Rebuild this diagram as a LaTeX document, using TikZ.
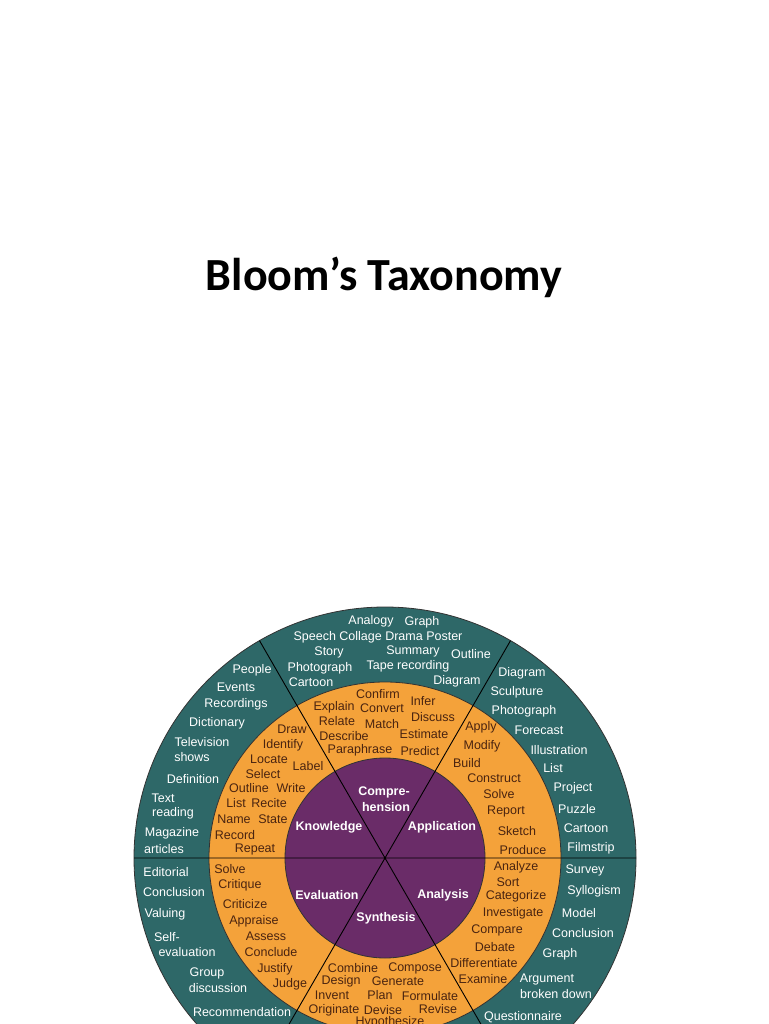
\documentclass[tikz,border=0pt]{standalone}
\usepackage{fontspec}
\usetikzlibrary{calc}
\setmainfont{Liberation Sans}
\newfontfamily\titlefont{Carlito}
\definecolor{teal}{HTML}{2E6868}
\definecolor{org}{HTML}{F4A23A}
\definecolor{purp}{HTML}{6A2C68}
\definecolor{brn}{HTML}{4A2410}
\begin{document}
\begin{tikzpicture}[x=1pt,y=-1pt,
  w/.style={text=white,font=\fontsize{12.5}{13}\selectfont,inner sep=0pt},
  o/.style={text=brn,font=\fontsize{12.5}{13}\selectfont,inner sep=0pt},
  p/.style={text=white,font=\bfseries\fontsize{12.5}{13}\selectfont,inner sep=0pt}]
\useasboundingbox (0,0) rectangle (768,1024);
\clip (0,0) rectangle (768,1024);
\node[font=\titlefont\bfseries\fontsize{46}{50}\selectfont] (title) at (384,277) {Bloom’s Taxonomy};
\coordinate (c) at (385,858);
\fill[teal] (c) circle (251);
\fill[org] (c) circle (176);
\fill[purp] (c) circle (100);
\draw[black!80,line width=0.8pt] (c) circle (251) (c) circle (176) (c) circle (100);
\draw[black,line width=0.9pt] ($(c)+(180:251)$) -- ($(c)+(0:251)$)
  ($(c)+(60:251)$) -- ($(c)+(240:251)$) ($(c)+(120:251)$) -- ($(c)+(300:251)$);
\foreach \t/\x/\y in {Analogy/371/621,Graph/422/622,Speech Collage Drama Poster/378/637,
 Story/329/652,Summary/413/651,Outline/471/654,Photograph/320/668,Tape recording/408/666,
 Cartoon/311/682,Diagram/457/681,
 People/252/670,Events/236/687,Recordings/236/704,Dictionary/217/723,Television/202/742,
 shows/192/757,Definition/193/779,Text/163/798,reading/173/813,Magazine/172/833,articles/164/849,
 Diagram/522/673,Sculpture/517/692,Photograph/524/711,Forecast/539/730,Illustration/559/750,
 List/553/768,Project/573/788,Puzzle/577/809,Cartoon/586/828,Filmstrip/591/848,
 Survey/585/870,Syllogism/594/891,Model/579/913,Conclusion/583/933,Graph/560/954,
 Argument/547/979,broken down/556/994,Questionnaire/523/1017,
 Editorial/166/872,Conclusion/174/892,Valuing/165/914,Self-/167/937,evaluation/187/952,
 Group/207/973,discussion/218/988,Recommendation/242/1012}
 \node[w] (t-\x-\y) at (\x,\y) {\t};
\foreach \t/\x/\y in {Draw/292/729,Identify/283/745,Locate/269/759,Label/308/766,Select/263/774,
 Outline/249/788,Write/291/788,List/236/803,Recite/269/803,Name/234/819,State/273/819,
 Record/235/835,Repeat/255/849,
 Confirm/378/694,Infer/423/701,Explain/334/707,Convert/382/708,Discuss/433/717,Relate/337/721,
 Match/382/724,Describe/344/736,Estimate/424/734,Paraphrase/360/750,Predict/420/751,
 Apply/481/727,Modify/482/746,Build/467/763,Construct/494/778,Solve/499/794,Report/506/811,
 Sketch/517/831,Produce/523/850,
 Analyze/516/867,Sort/508/882,Categorize/516/896,Investigate/513/913,Compare/497/930,
 Debate/495/947,Differentiate/484/963,Examine/483/979,
 Combine/353/968,Compose/415/968,Design/341/981,Generate/398/981,Invent/332/995,Plan/380/995,
 Formulate/430/996,Originate/334/1010,Devise/383/1010,Revise/438/1009,Hypothesize/390/1022,
 Solve/230/869,Critique/240/885,Criticize/245/904,Appraise/254/921,Assess/266/936,
 Conclude/271/952,Justify/275/969,Judge/290/984}
 \node[o] (u-\x-\y) at (\x,\y) {\t};
\foreach \t/\x/\y in {Compre-/384/792,hension/386/807,Knowledge/329/827,Application/442/827,
 Evaluation/327/895,Analysis/443/895,Synthesis/386/918}
 \node[p] (v-\x-\y) at (\x,\y) {\t};
\end{tikzpicture}
\end{document}
